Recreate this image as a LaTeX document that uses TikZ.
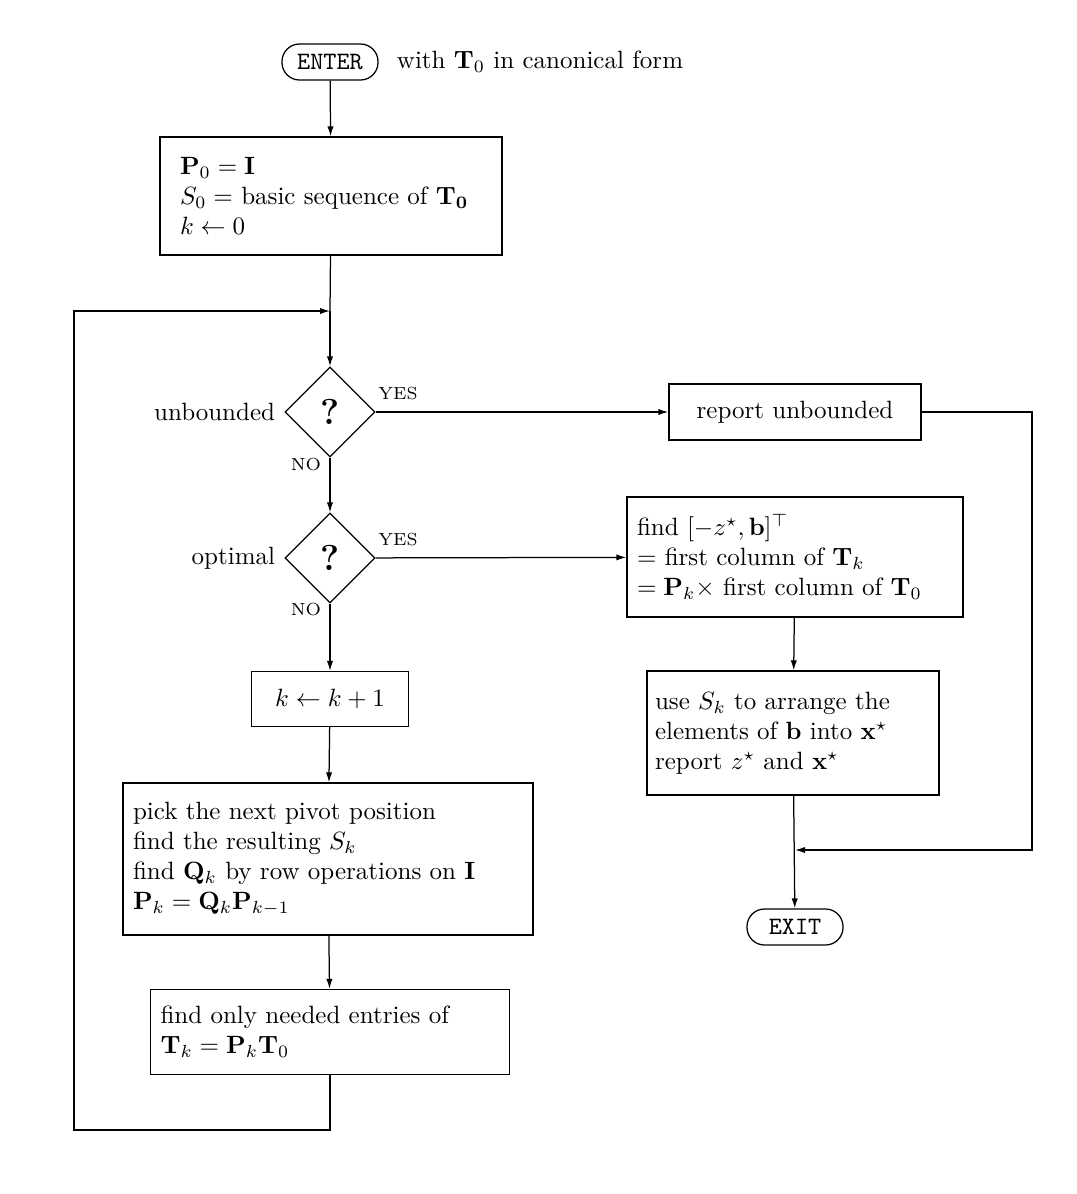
\documentclass[tikz,border=0pt]{standalone}
\usetikzlibrary{shapes.geometric,arrows.meta}
\begin{document}
\begin{tikzpicture}[x=0.4pt,y=-0.4pt,
  box/.style={draw,align=left,inner sep=0pt,minimum height=#1*0.4pt},
  dia/.style={draw,diamond,aspect=1,minimum size=90*0.4pt,inner sep=0pt,font=\Large\bfseries},
  term/.style={draw,rounded corners=7pt,font=\ttfamily,minimum height=36*0.4pt,minimum width=96*0.4pt,inner sep=2pt},
  lab/.style={font=\scriptsize},
  arr/.style={-{Latex[length=4pt,width=2.5pt]}},
  line width=0.5pt]
\useasboundingbox (0,0) rectangle (1076,1194);
\node[term,minimum width=96*0.4pt] (enter) at (330,62) {ENTER};
\node[anchor=west] (with) at (388,62) {with $\mathbf{T}_0$ in canonical form};
\node[box=118,text width=302*0.4pt,minimum width=342*0.4pt] (b1) at (331,196) {$\mathbf{P}_0=\mathbf{I}$\\ $S_0=$ basic sequence of $\mathbf{T_0}$\\ $k\leftarrow 0$};
\coordinate (join) at (330,311);
\node[dia] (d1) at (330,412) {?};
\node[anchor=east] (ub) at (284,412) {unbounded};
\node[lab] (y1) at (398,394) {YES};
\node[lab] (n1) at (306,465) {NO};
\node[box=56,minimum width=252*0.4pt] (rep) at (795,412) {report unbounded};
\node[dia] (d2) at (330,558) {?};
\node[anchor=east] (op) at (284,558) {optimal};
\node[lab] (y2) at (398,540) {YES};
\node[lab] (n2) at (306,610) {NO};
\node[box=120,text width=316*0.4pt,minimum width=336*0.4pt] (find) at (795,557) {find $[-z^\star,\mathbf{b}]^\top$\\ $=$ first column of $\mathbf{T}_k$\\ $=\mathbf{P}_k\times$ first column of $\mathbf{T}_0$};
\node[box=124,text width=276*0.4pt,minimum width=292*0.4pt] (use) at (793,733) {use $S_k$ to arrange the\\ elements of $\mathbf{b}$ into $\mathbf{x}^\star$\\ report $z^\star$ and $\mathbf{x}^\star$};
\node[term] (exit) at (795,927) {EXIT};
\coordinate (m) at (795,850);
\coordinate (r1) at (1032,412);
\coordinate (r2) at (1032,850);
\node[box=55,minimum width=157*0.4pt] (k) at (330,699) {$k\leftarrow k+1$};
\node[box=152,text width=390*0.4pt,minimum width=410*0.4pt] (pick) at (328,859) {pick the next pivot position\\ find the resulting $S_k$\\ find $\mathbf{Q}_k$ by row operations on $\mathbf{I}$\\ $\mathbf{P}_k=\mathbf{Q}_k\mathbf{P}_{k-1}$};
\node[box=85,text width=339*0.4pt,minimum width=359*0.4pt] (fo) at (330,1032) {find only needed entries of\\ $\mathbf{T}_k=\mathbf{P}_k\mathbf{T}_0$};
\coordinate (c1) at (330,1130);
\coordinate (c2) at (74,1130);
\coordinate (c3) at (74,311);
\draw[arr] (enter) -- (b1);
\draw (b1) -- (join);
\draw[arr] (join) -- (d1);
\draw[arr] (d1) -- (rep);
\draw[arr] (d1) -- (d2);
\draw[arr] (d2) -- (find);
\draw[arr] (d2) -- (k);
\draw[arr] (find) -- (use);
\draw[arr] (use) -- (exit);
\draw[arr] (rep.east) -- (r1) -- (r2) -- (m);
\draw[arr] (k) -- (pick);
\draw[arr] (pick) -- (fo);
\draw[arr] (fo.south) -- (c1) -- (c2) -- (c3) -- (join);
\end{tikzpicture}
\end{document}
